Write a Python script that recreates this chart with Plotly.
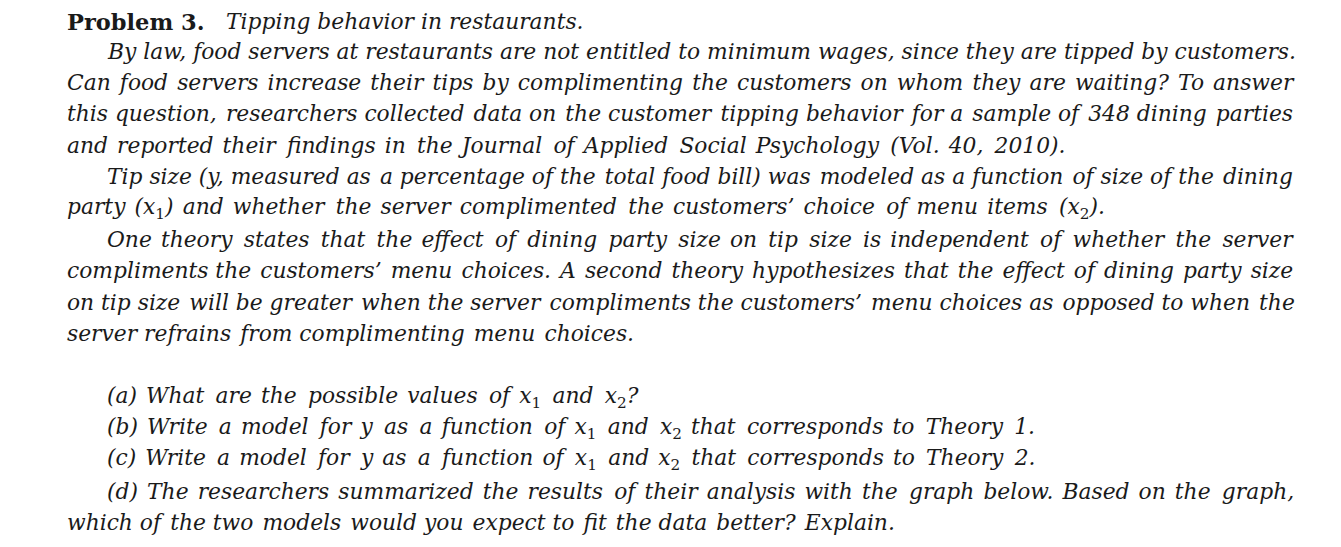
import plotly.graph_objects as go

# text lines of the problem statement (html markup for italics / subscripts)
title_bold = 'Problem 3.'
title_rest = 'Tipping behavior in restaurants.'

X1 = 'x</i><sub>1</sub><i>'
X2 = 'x</i><sub>2</sub><i>'

para_lines = [
    'By law, food servers at restaurants are not entitled to minimum wages, since they are tipped by customers.',
    'Can food servers increase their tips by complimenting the customers on whom they are waiting? To answer',
    'this question, researchers collected data on the customer tipping behavior for a sample of 348 dining parties',
    'and reported their findings in the Journal of Applied Social Psychology (Vol. 40, 2010).',
    'Tip size (y, measured as a percentage of the total food bill) was modeled as a function of size of the dining',
    'party (' + X1 + ') and whether the server complimented the customers\u2019 choice of menu items (' + X2 + ').',
    'One theory states that the effect of dining party size on tip size is independent of whether the server',
    'compliments the customers\u2019 menu choices. A second theory hypothesizes that the effect of dining party size',
    'on tip size will be greater when the server compliments the customers\u2019 menu choices as opposed to when the',
    'server refrains from complimenting menu choices.',
]
para_indent = [True, False, False, False, True, False, True, False, False, False]
# extra width (px) spread over the word gaps (justify / match the wider spacing)
para_stretch = [0, 34, 18, 41, 11, 38, 69, 31, 12, 6]

question_lines = [
    '(a) What are the possible values of ' + X1 + ' and ' + X2 + '?',
    '(b) Write a model for y as a function of ' + X1 + ' and ' + X2 + ' that corresponds to Theory 1.',
    '(c) Write a model for y as a function of ' + X1 + ' and ' + X2 + ' that corresponds to Theory 2.',
    '(d) The researchers summarized the results of their analysis with the graph below. Based on the graph,',
    'which of the two models would you expect to fit the data better? Explain.',
]
question_indent = [True, True, True, True, False]
question_stretch = [30, 59, 60, 42, 17]

W, H = 1341, 547
OFF = 8  # page body margin
left, indent = 65, 105
FS = 21.8
font = dict(family='DejaVu Serif', size=FS, color='#1a1a1a')
HAIR = '\u200a'
HAIR_W = 0.1 * FS


def justify(txt, extra):
    words = txt.split(' ')
    gaps = len(words) - 1
    n = int(round(extra / HAIR_W))
    if n <= 0 or gaps <= 0:
        return txt
    out = words[0]
    for i in range(gaps):
        k = (n * (i + 1)) // gaps - (n * i) // gaps
        out += ' ' + HAIR * k + words[i + 1]
    return out


fig = go.Figure()
fig.add_trace(go.Scatter(x=[OFF, W + OFF], y=[OFF, H + OFF], mode='markers',
                         marker=dict(opacity=0), hoverinfo='skip', showlegend=False))

anns = []
anns.append(dict(x=left, y=21.5, text='<b>' + title_bold + '</b>',
                 font=dict(family='DejaVu Serif', size=22.5, color='#1a1a1a')))
anns.append(dict(x=224, y=21.5, text='<i>' + title_rest + '</i>', font=font))
y = 51
for txt, ind, st in zip(para_lines, para_indent, para_stretch):
    anns.append(dict(x=indent if ind else left, y=y, text='<i>' + justify(txt, st) + '</i>', font=font))
    y += 31.4
y = 397
for txt, ind, st in zip(question_lines, question_indent, question_stretch):
    anns.append(dict(x=indent if ind else left, y=y, text='<i>' + justify(txt, st) + '</i>', font=font))
    y += 31.4

for a in anns:
    fig.add_annotation(xref='x', yref='y', xanchor='left', yanchor='middle',
                       showarrow=False, align='left', **a)

fig.update_xaxes(range=[OFF, W + OFF], visible=False, fixedrange=True)
fig.update_yaxes(range=[H + OFF, OFF], visible=False, fixedrange=True)
fig.update_layout(width=W, height=H, margin=dict(l=0, r=0, t=0, b=0),
                  plot_bgcolor='white', paper_bgcolor='white')

fig.write_html('out.html', config=dict(displayModeBar=False))
